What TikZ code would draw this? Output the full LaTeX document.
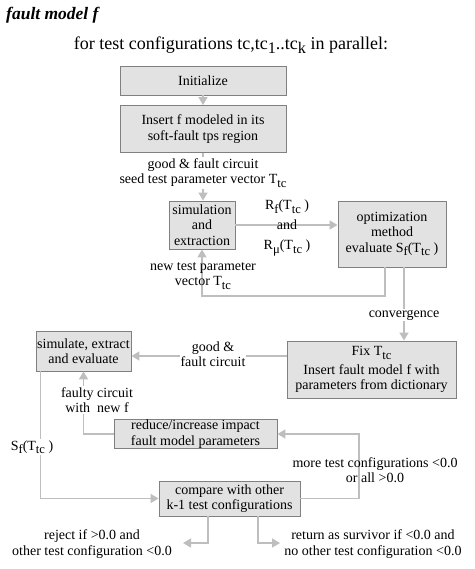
\documentclass[tikz,border=0pt]{standalone}
\usepackage{fontspec}
\usepackage{graphicx}
\setmainfont{Liberation Serif}
\usetikzlibrary{arrows.meta,calc}
\newcommand{\sbs}[1]{\raisebox{-0.55ex}{\scalebox{0.9}{#1}}}
\definecolor{boxfill}{HTML}{E2E2E2}
\definecolor{boxline}{HTML}{808080}
\definecolor{arrcol}{HTML}{BEBEBE}
\begin{document}
\begin{tikzpicture}[x=1pt,y=-1pt,
  box/.style={draw=boxline,fill=boxfill,line width=0.9pt,align=center,inner sep=0pt,font=\fontsize{14}{15.5}\selectfont},
  arr/.style={draw=arrcol,line width=1.6pt,-{Triangle[width=9pt,length=8pt]}},
  lbl/.style={align=center,inner sep=1pt,font=\fontsize{14}{15.5}\selectfont},
  wlbl/.style={lbl,fill=white}
]
\useasboundingbox (0,0) rectangle (474,569);

\node[anchor=west,inner sep=0pt,font=\fontsize{17.5}{17.5}\selectfont\bfseries\itshape] (title) at (6,15) {fault model f};
\node[inner sep=0pt,font=\fontsize{18}{18}\selectfont] (head) at (231,45) {for test configurations tc,tc\sbs{1}..tc\sbs{k} in parallel:};

\node[box,minimum width=166pt,minimum height=29pt] (init) at (203,80.5) {Initialize};
\node[box,minimum width=166pt,minimum height=47pt] (ins) at (203,129) {Insert f modeled in its\\soft-fault tps region};
\node[box,minimum width=66pt,minimum height=48pt] (sim) at (202,225) {simulation\\and\\extraction};
\node[box,minimum width=108pt,minimum height=66pt] (opt) at (392,234) {optimization\\method\\evaluate S\sbs{f}(T\sbs{tc} )};
\node[box,minimum width=169pt,minimum height=57pt] (fix) at (371.5,369.5) {Fix T\sbs{tc}\\[3pt]Insert fault model f with\\parameters from dictionary};
\node[box,minimum width=95pt,minimum height=40pt] (sev) at (83.5,351) {simulate, extract\\and evaluate};
\node[box,minimum width=163pt,minimum height=24pt] (red) at (195.5,434) {reduce/increase impact\\fault model parameters};
\node[box,minimum width=141pt,minimum height=35pt] (cmp) at (229.5,498.5) {compare with other\\k-1 test configurations};

\coordinate (fb) at (385,296);
\coordinate (r1) at (0,356);
\coordinate (cr) at (359,0);
\coordinate (rj) at (183,543);
\coordinate (sv) at (280,543);

\draw[arr] (init) -- (ins);
\draw[arr] (ins.south) -- (ins.south |- sim.north);
\draw[arr] (sim.east) -- (sim.east -| opt.west);
\draw[arr] (opt.south -| fb) |- (sim.south |- fb) -- (sim.south);
\draw[arr] ([xshift=12pt]opt.south) -- ([xshift=12pt]opt.south |- fix.north);
\draw[arr] (fix.west |- r1) -- (sev.east |- r1);
\draw[arr] ([xshift=5pt]sev.south west) |- (cmp.west);
\draw[arr] (red.west) -| (sev.south);
\draw[arr] (cmp.east) -| (cr |- red.east) -- (red.east);
\draw[arr] ([xshift=-21.5pt]cmp.south) |- (rj);
\draw[arr] ([xshift=28.5pt]cmp.south) |- (sv);

\node[wlbl] (l1) at (203,173) {good \& fault circuit\\seed test parameter vector T\sbs{tc}};
\node[lbl,font=\fontsize{14}{20}\selectfont] (l2) at (287,228) {R\sbs{f}(T\sbs{tc} )\\and\\R\sbs{μ}(T\sbs{tc} )};
\node[lbl] (l3) at (203,276) {new test parameter\\vector T\sbs{tc}};
\node[wlbl] (l4) at (404,315) {convergence};
\node[wlbl] (l5) at (213,354) {good \&\\fault circuit};
\node[wlbl] (l6) at (97,400) {faulty circuit\\with\ \ new f};
\node[wlbl] (l7) at (32,447) {S\sbs{f}(T\sbs{tc} )};
\node[lbl] (l8) at (375,470) {more test configurations <0.0\\or all >0.0};
\node[lbl] (l9) at (92,544) {reject if >0.0 and\\other test configuration <0.0};
\node[lbl] (l10) at (373,544) {return as survivor if <0.0 and\\no other test configuration <0.0};
\end{tikzpicture}
\end{document}
